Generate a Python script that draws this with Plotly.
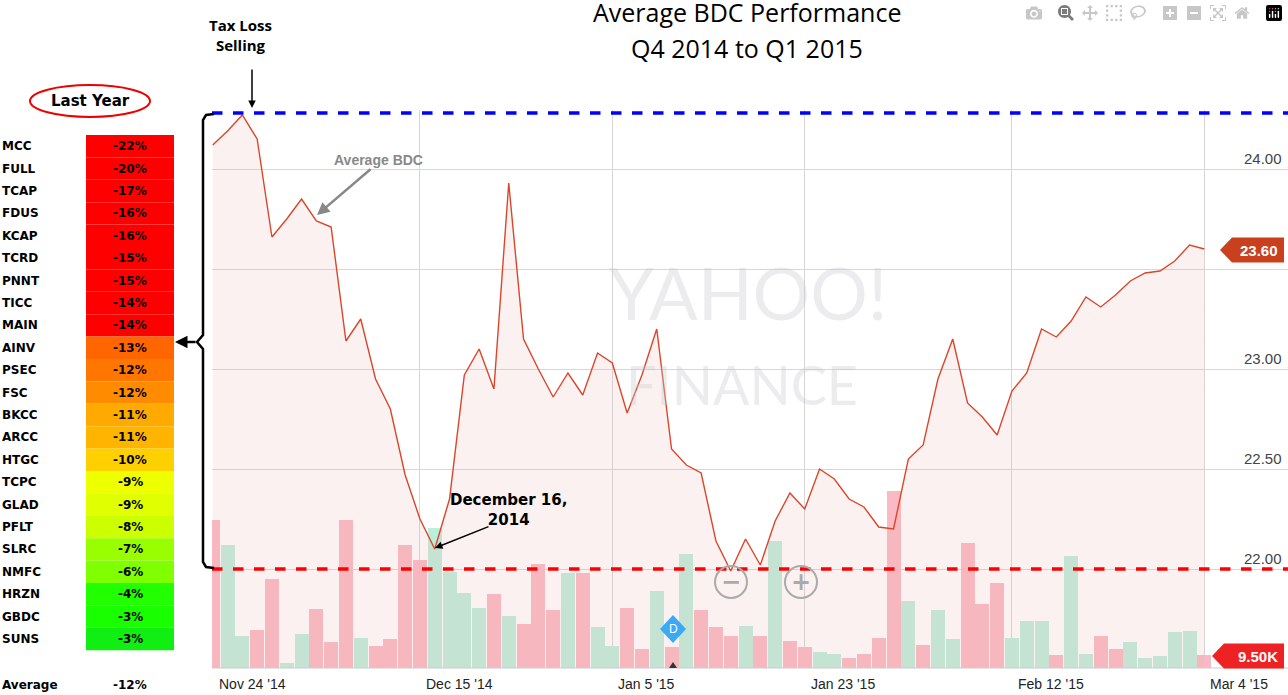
import plotly.graph_objects as go

# ---------------- data ----------------
price = [24.12, 24.19, 24.27, 24.15, 23.66, 23.75, 23.85, 23.74, 23.71, 23.14,
         23.25, 22.95, 22.80, 22.47, 22.25, 22.10, 22.35, 22.97, 23.10, 22.90,
         23.93, 23.15, 23.00, 22.86, 22.98, 22.87, 23.08, 23.03, 22.78, 22.97,
         23.20, 22.60, 22.52, 22.48, 22.14, 21.99, 22.15, 22.02, 22.24, 22.38,
         22.30, 22.50, 22.45, 22.35, 22.31, 22.21, 22.20, 22.55, 22.62, 22.95,
         23.15, 22.83, 22.76, 22.67, 22.89, 22.98, 23.20, 23.16, 23.24, 23.36,
         23.31, 23.37, 23.44, 23.48, 23.49, 23.54, 23.62, 23.60]
volume_k = [108, 90, 23, 28, 65, 4, 25, 43, 19, 108,
            22, 16, 21, 90, 79, 102, 70, 55, 44, 54,
            38, 32, 76, 42, 69, 69, 30, 16, 44, 14,
            56, 15, 83, 42, 30, 23, 31, 23, 93, 20,
            15, 12, 10, 7, 10, 22, 129, 49, 17, 42,
            21, 91, 47, 62, 22, 34, 34, 9.5, 82, 10,
            23, 14, 19, 7, 9, 26, 27, 9.5]
vol_up = ["r", "g", "g", "r", "r", "g", "g", "r", "r", "r",
          "g", "r", "r", "r", "r", "g", "g", "g", "g", "r",
          "g", "r", "r", "r", "g", "r", "g", "g", "r", "r",
          "g", "r", "g", "r", "r", "r", "g", "r", "g", "r",
          "r", "g", "g", "r", "r", "r", "r", "g", "r", "g",
          "g", "r", "r", "r", "g", "g", "g", "r", "g", "g",
          "r", "r", "g", "g", "g", "g", "g", "r"]
tick_idx = [0, 14, 27, 40, 54, 67]
tick_labels = ["Nov 24 '14", "Dec 15 '14", "Jan 5 '15", "Jan 23 '15", "Feb 12 '15", "Mar 4 '15"]
price_ticks = [22.0, 22.5, 23.0, 23.5, 24.0]

tickers = ["MCC", "FULL", "TCAP", "FDUS", "KCAP", "TCRD", "PNNT", "TICC", "MAIN", "AINV",
           "PSEC", "FSC", "BKCC", "ARCC", "HTGC", "TCPC", "GLAD", "PFLT", "SLRC", "NMFC",
           "HRZN", "GBDC", "SUNS"]
last_year = [-22, -20, -17, -16, -16, -15, -15, -14, -14, -13,
             -12, -12, -11, -11, -10, -9, -9, -8, -7, -6,
             -4, -3, -3]
cell_colors = ["#ff0000"] * 9 + ["#ff6600", "#ff7700", "#ff8c00", "#ffaa00", "#ffb400",
               "#ffd000", "#eeff00", "#e0ff00", "#ccff00", "#99ff00", "#80ff00",
               "#22ff00", "#1aff00", "#11ee11"]
average = -12

# ---------------- geometry helpers ----------------
W, H = 1288, 695
L, R, T, B = 212, 1288, 110, 668
def px(x): return (x - L) / (R - L)
def py(y): return (B - y) / (B - T)

fig = go.Figure()
fig.add_trace(go.Bar(
    x=list(range(len(volume_k))), y=volume_k,
    marker=dict(color=["#bdeedb" if c == "g" else "#fbb9c4" for c in vol_up], line=dict(width=0)),
    yaxis="y", width=0.95, hoverinfo="skip"))
fig.add_trace(go.Scatter(
    x=list(range(len(price))), y=price, mode="lines", yaxis="y2",
    line=dict(color="#d9472b", width=1.4), fill="tozeroy",
    fillcolor="rgba(235,180,170,0.18)", hoverinfo="skip"))

fig.update_layout(
    width=W, height=H, margin=dict(l=L, r=W - R, t=T, b=H - B),
    paper_bgcolor="white", plot_bgcolor="white", showlegend=False, bargap=0,
    xaxis=dict(range=[-0.05, (R - L) / 14.8 - 0.05], tickvals=tick_idx, showticklabels=False,
               showgrid=True, gridcolor="#d6d6d6", zeroline=False, showline=False),
    yaxis=dict(range=[0, 407], showticklabels=False, showgrid=False, zeroline=False),
    yaxis2=dict(range=[21.505, 24.295], overlaying="y", side="right", tickvals=price_ticks,
                showticklabels=False, showgrid=True, gridcolor="#d6d6d6", zeroline=False),
)

shapes = []
ann = []
def A(x, y, text, size, color="black", family="DejaVu Sans", xa="center", ya="middle", **kw):
    ann.append(dict(x=x, y=y, xref="paper", yref="paper", text=text, showarrow=False,
                    xanchor=xa, yanchor=ya, font=dict(family=family, size=size, color=color), **kw))
def arrow(x, y, ax, ay, width, color):
    ann.append(dict(x=px(x), y=py(y), xref="paper", yref="paper", ax=ax - x, ay=ay - y, text="",
                    showarrow=True, arrowhead=2, arrowwidth=width, arrowcolor=color))

shapes.append(dict(type="line", xref="paper", yref="paper", x0=0, x1=1, y0=0, y1=0,
                   line=dict(color="#cccccc", width=1)))
for i, lab in zip(tick_idx, tick_labels):
    ann.append(dict(x=i, xref="x", y=py(684), yref="paper", text=lab, showarrow=False,
                    xanchor="left", yanchor="middle", xshift=4,
                    font=dict(family="Liberation Sans", size=14, color="#222")))
for v in price_ticks:
    if v == 23.5:
        continue
    ann.append(dict(x=1, xref="paper", y=v, yref="y2", text=f"{v:.2f}", showarrow=False,
                    xanchor="right", yanchor="bottom", xshift=-4,
                    font=dict(family="Liberation Sans", size=15, color="#444")))
shapes.append(dict(type="line", xref="paper", yref="y2", x0=0, x1=1, y0=24.28, y1=24.28,
                   line=dict(color="#0000ff", width=3.5, dash="dash")))
shapes.append(dict(type="line", xref="paper", yref="y2", x0=0, x1=1, y0=22.0, y1=22.0,
                   line=dict(color="#ff0000", width=3.5, dash="dash")))

def tag(x0, x1, yc, h, color, text):
    shapes.append(dict(type="path", xref="paper", yref="paper",
                       path=f"M {px(x0)} {py(yc)} L {px(x0+12)} {py(yc-h/2)} L {px(x1)} {py(yc-h/2)} "
                            f"L {px(x1)} {py(yc+h/2)} L {px(x0+12)} {py(yc+h/2)} Z",
                       fillcolor=color, line=dict(width=0)))
    A(px(x1 - 4), py(yc), f"<b>{text}</b>", 15, "white", "Liberation Sans", xa="right")
tag(1220, 1284, 250, 25, "#c9401f", "23.60")
tag(1212, 1284, 656, 25, "#ee2222", "9.50K")

A(px(748), py(292), "YAHOO!", 72, "rgba(200,200,205,0.35)", "Lato")
A(px(742), py(384), "FINANCE", 54, "rgba(200,200,205,0.35)", "Lato")

for cx, sym in [(731, "−"), (801, "+")]:
    shapes.append(dict(type="circle", xref="paper", yref="paper", x0=px(cx-16), x1=px(cx+16),
                       y0=py(582+16), y1=py(582-16), line=dict(color="#aaa", width=2)))
    A(px(cx), py(582), f"<b>{sym}</b>", 24, "#aaa")
shapes.append(dict(type="path", xref="paper", yref="paper",
                   path=f"M {px(673)} {py(615)} L {px(686)} {py(629)} L {px(673)} {py(643)} L {px(660)} {py(629)} Z",
                   fillcolor="#3ba9f5", line=dict(width=0)))
A(px(673), py(629), "D", 12, "white", "Liberation Sans")
shapes.append(dict(type="path", xref="paper", yref="paper",
                   path=f"M {px(669)} {py(668)} L {px(673)} {py(662)} L {px(677)} {py(668)} Z",
                   fillcolor="#333", line=dict(width=0)))

A(px(747), py(12), "Average BDC Performance", 25, family="Open Sans")
A(px(747), py(48), "Q4 2014 to Q1 2015", 25, family="Open Sans")

arrow(252, 108, 252, 68, 1.5, "black")
A(px(240), py(35), "<b>Tax Loss<br>Selling</b>", 15, family="Open Sans")
arrow(317, 215, 372, 168, 2.5, "#888")
A(px(378), py(160), "<b>Average BDC</b>", 14, "#888", "Liberation Sans")
arrow(435, 548, 490, 526, 1.5, "black")
A(px(508), py(510), "<b>December 16,<br>2014</b>", 15)

shapes.append(dict(type="path", xref="paper", yref="paper",
                   path=f"M {px(214)} {py(114)} L {px(206)} {py(115)} L {px(203)} {py(120)} L {px(203)} {py(335)} "
                        f"L {px(197)} {py(342)} L {px(203)} {py(349)} L {px(203)} {py(562)} L {px(206)} {py(567)} L {px(214)} {py(568)}",
                   line=dict(color="black", width=2.5)))
arrow(175, 342, 197, 342, 2.5, "black")

A(px(90), py(101), "<b>Last Year</b>", 15)
shapes.append(dict(type="circle", xref="paper", yref="paper", x0=px(30), x1=px(150), y0=py(117), y1=py(85),
                   line=dict(color="#e00", width=2)))
top, rh = 135, 22.4
for k, (tk, v, c) in enumerate(zip(tickers, last_year, cell_colors)):
    y0, y1 = top + k * rh, top + (k + 1) * rh
    shapes.append(dict(type="rect", xref="paper", yref="paper", x0=px(86), x1=px(174), y0=py(y1), y1=py(y0),
                       fillcolor=c, line=dict(width=0), layer="below"))
    A(px(0), py((y0 + y1) / 2), f"<b>{tk}</b>", 12, xa="left")
    A(px(130), py((y0 + y1) / 2), f"<b>{v}%</b>", 12)
A(px(0), py(685), "<b>Average</b>", 12, xa="left")
A(px(130), py(685), f"<b>{average}%</b>", 12)

fig.update_layout(shapes=shapes, annotations=ann)
fig.write_html("out.html")
with open("out.html", encoding="utf-8") as f:
    html = f.read()
html = html.replace("<body>", '<body style="margin:0;overflow:hidden">', 1)
with open("out.html", "w", encoding="utf-8") as f:
    f.write(html)
